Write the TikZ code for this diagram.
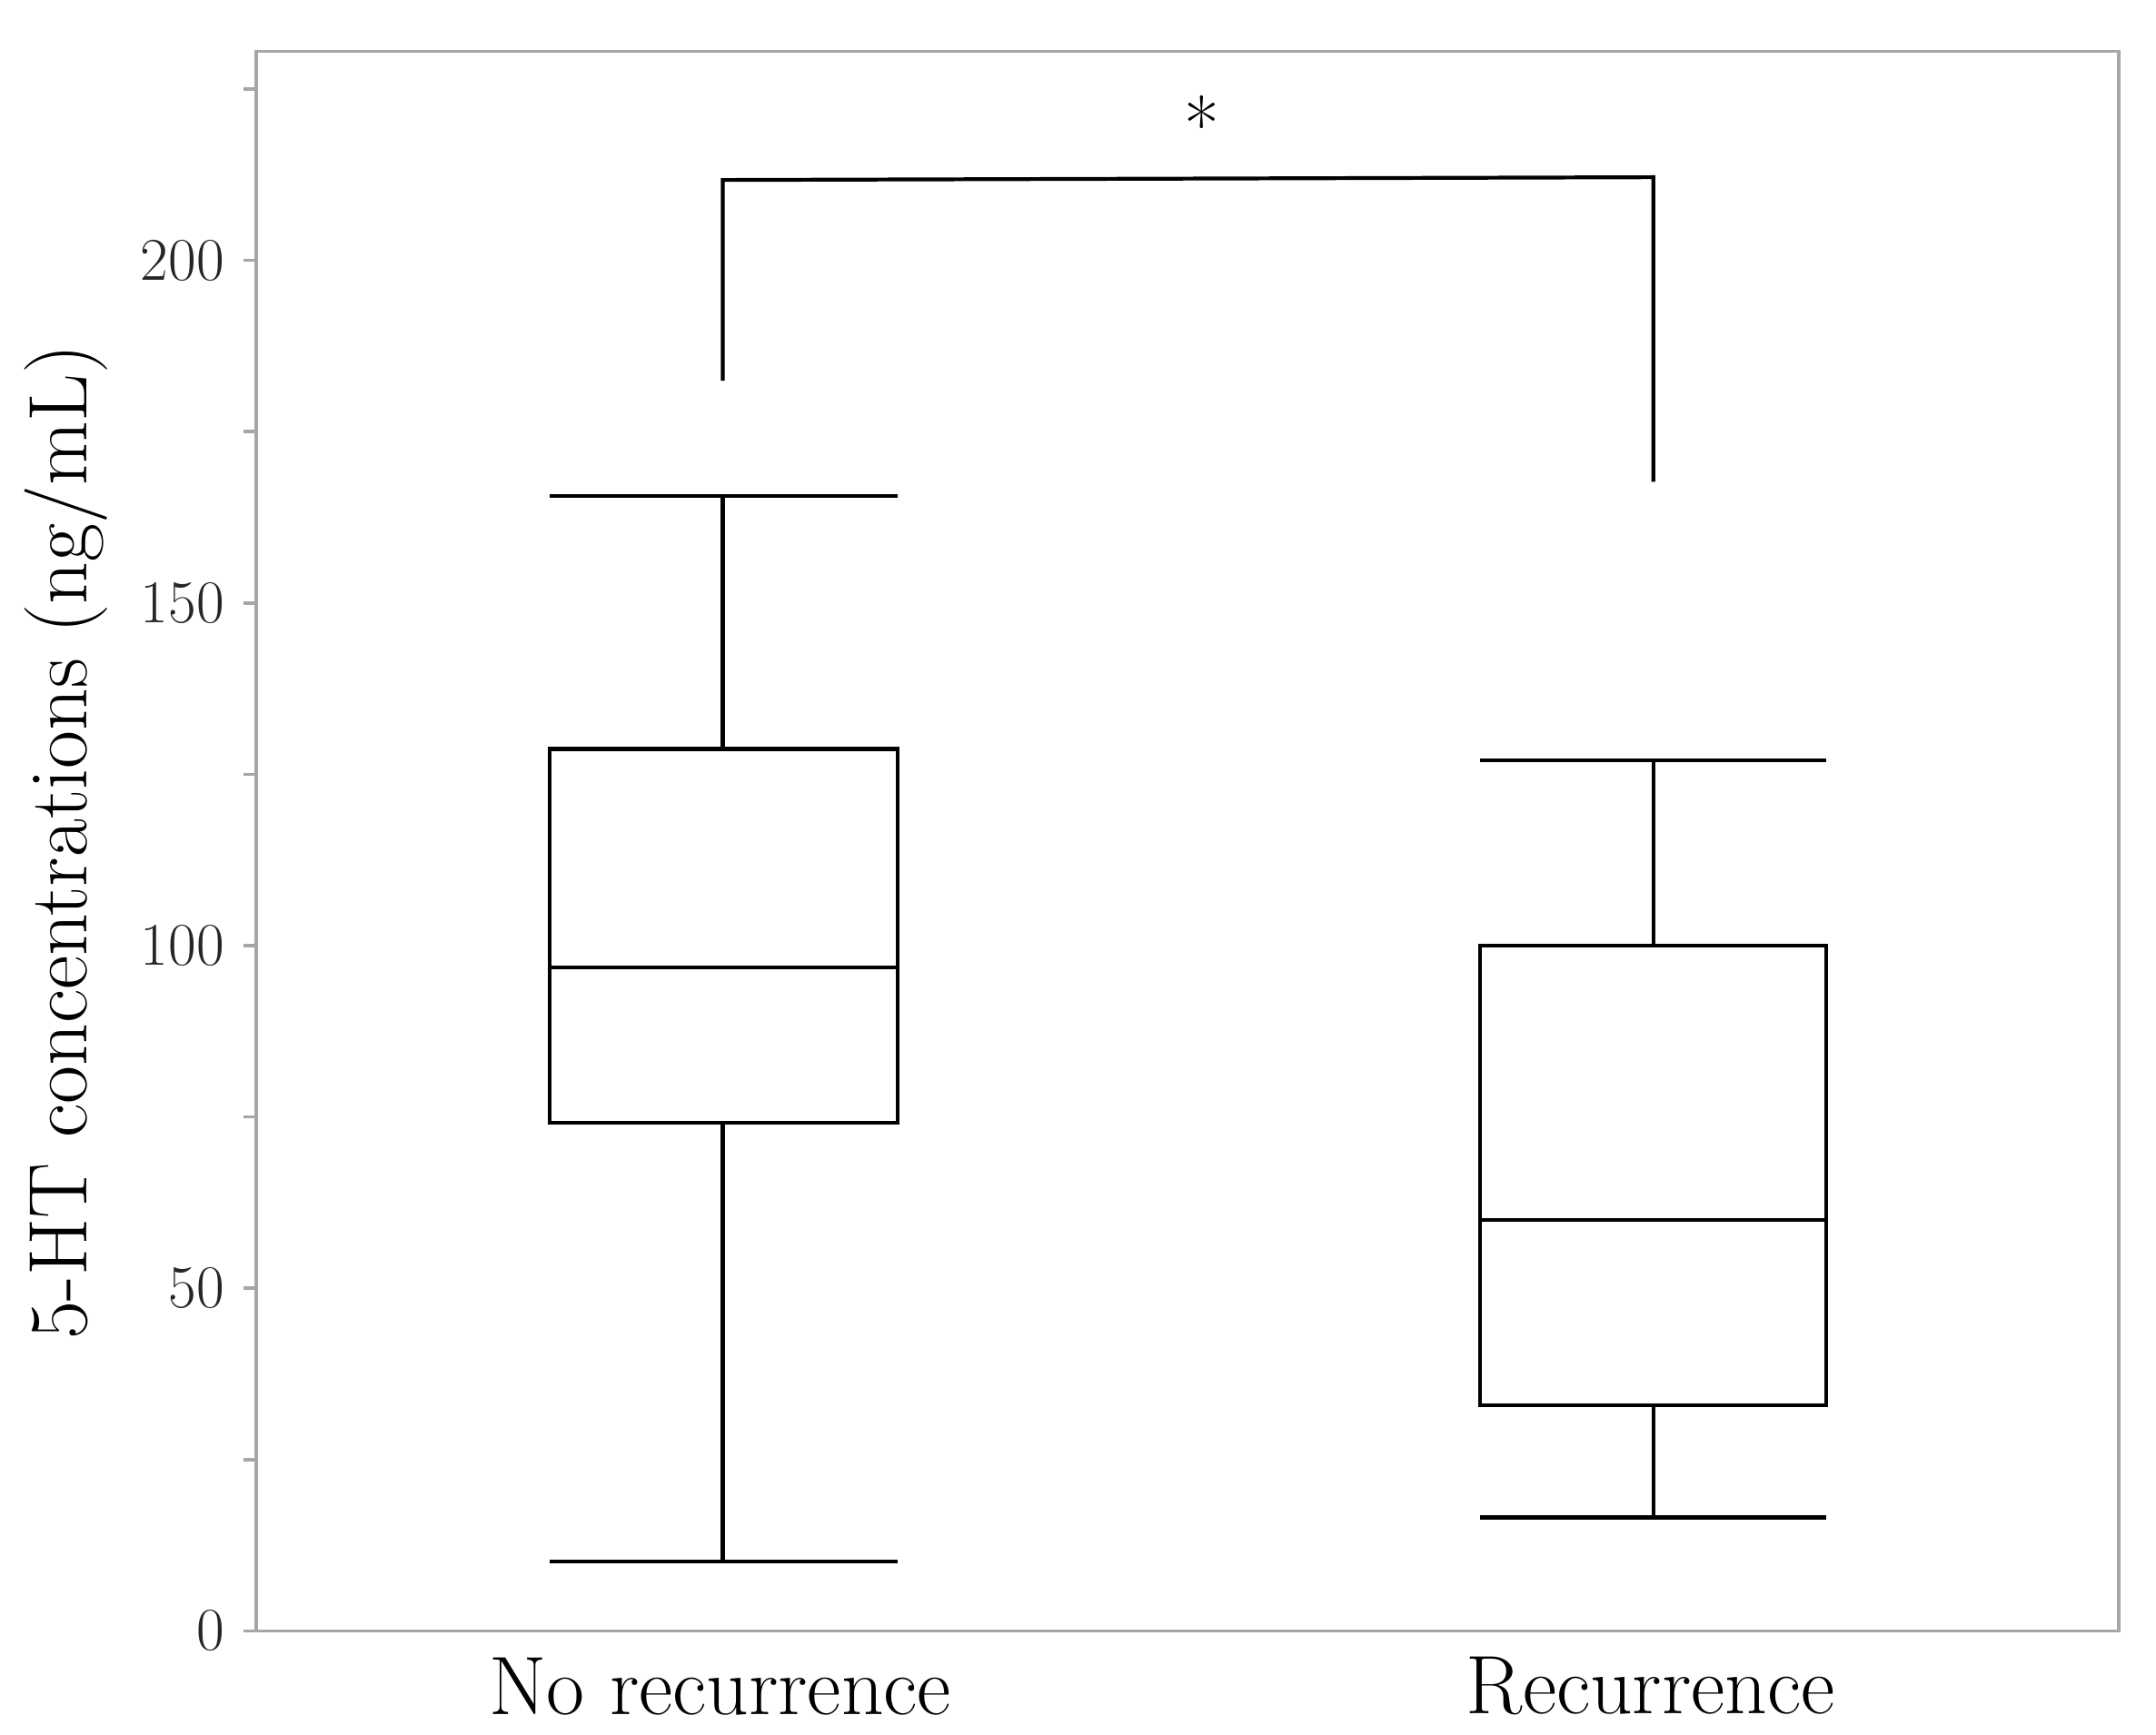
\documentclass[tikz,border=0pt]{standalone}
\usepackage{fontspec}
\begin{document}
\begin{tikzpicture}[x=0.01524cm,y=-0.01524cm,
  ln/.style={line width=1.2pt,black},
  frm/.style={line width=1pt,gray!70},
  tk/.style={font=\fontsize{19}{22}\selectfont,anchor=east,text=black!85}]
\useasboundingbox (0,0) rectangle (1557,1253);
\draw[frm] (185,37) rectangle (1530,1178);
% ticks
\foreach \v in {0,25,...,225}{
  \pgfmathsetmacro{\yy}{1178-4.95*\v}
  \draw[frm] (176,\yy) -- (185,\yy);}
\foreach \v in {0,50,100,150,200}{
  \pgfmathsetmacro{\yy}{1178-4.95*\v}
  \node[tk] (t\v) at (170,\yy) {\v};}
\node[rotate=90,font=\fontsize{26}{30}\selectfont] (yl) at (48,608) {5-HT concentrations (ng/mL)};
\node[font=\fontsize{26}{30}\selectfont] (x1) at (520,1218) {No recurrence};
\node[font=\fontsize{26}{30}\selectfont] (x2) at (1192,1218) {Recurrence};
% box 1
\draw[ln] (397,541) rectangle (648,811);
\draw[ln] (397,699) -- (648,699);
\draw[ln] (522,541) -- (522,358);
\draw[ln] (397,358) -- (648,358);
\draw[ln] (522,811) -- (522,1128);
\draw[ln] (397,1128) -- (648,1128);
% box 2
\draw[ln] (1069,683) rectangle (1319,1015);
\draw[ln] (1069,881) -- (1319,881);
\draw[ln] (1194,683) -- (1194,549);
\draw[ln] (1069,549) -- (1319,549);
\draw[ln] (1194,1015) -- (1194,1096);
\draw[ln] (1069,1096) -- (1319,1096);
% bracket
\coordinate (b1) at (522,275);
\coordinate (b2) at (1194,348);
\draw[ln] (b1) -- (522,130) -- (1194,128) -- (b2);
\node[font=\fontsize{24}{28}\selectfont] (st) at (868,90) {*};
\end{tikzpicture}
\end{document}
